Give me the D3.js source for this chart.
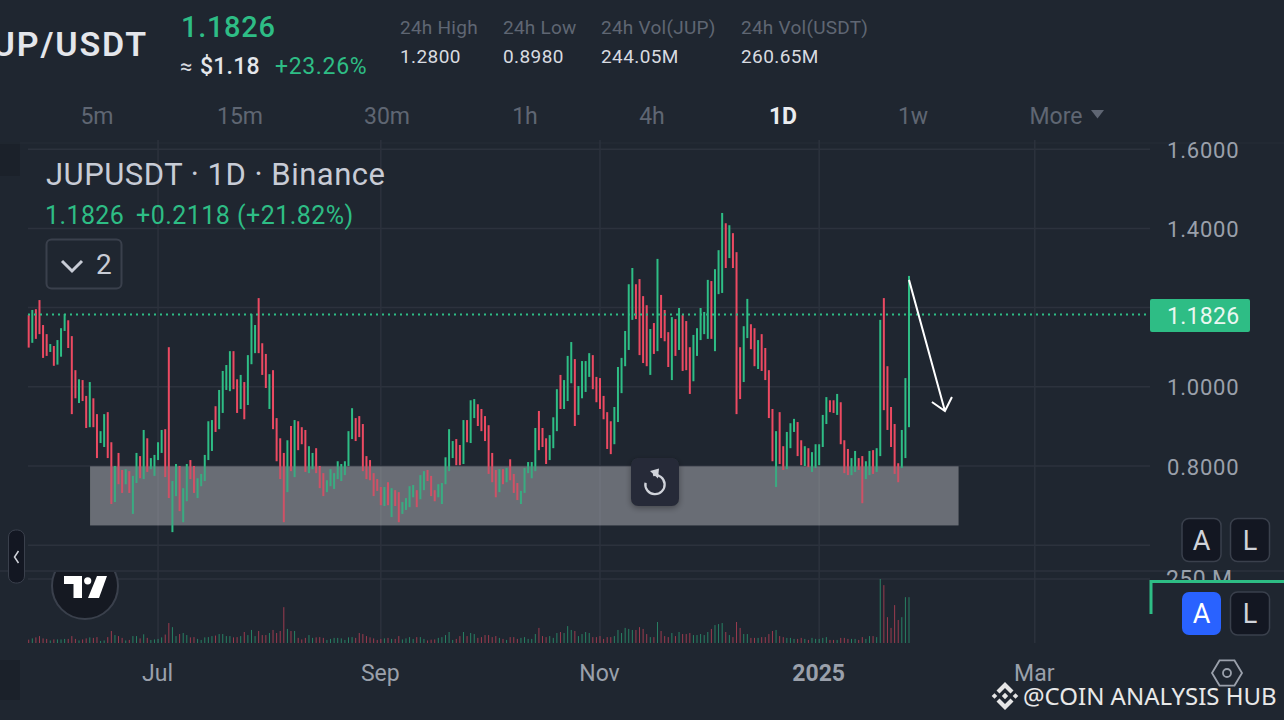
<!DOCTYPE html>
<html>
<head>
<meta charset="utf-8">
<script src="https://cdn.jsdelivr.net/npm/d3@7"></script>
<style>
  html, body { margin: 0; padding: 0; background: #1f2630; overflow: hidden; }
  svg { display: block; font-family: Roboto, sans-serif; }
</style>
</head>
<body>
<svg id="chart" width="1284" height="720"></svg>
<script>
// daily bars, 26 May 2024 to 26 Jan 2025
var highs = [
  1.181,1.194,1.196,1.219,1.156,1.133,1.108,1.103,1.118,1.148,
  1.184,1.168,1.128,1.042,1.019,1.017,0.977,1.012,0.971,0.931,
  0.888,0.931,0.936,0.860,0.800,0.833,0.790,0.792,0.787,0.775,
  0.833,0.825,0.891,0.870,0.820,0.828,0.860,0.891,0.893,1.100,
  0.762,0.805,0.800,0.744,0.805,0.815,0.800,0.769,0.780,0.828,
  0.913,0.916,0.951,0.992,1.040,1.055,1.090,1.090,1.019,1.030,
  1.012,1.080,1.184,1.156,1.224,1.110,1.083,1.032,1.042,0.921,
  0.870,0.833,0.865,0.901,0.916,0.913,0.898,0.891,0.850,0.833,
  0.845,0.800,0.782,0.764,0.792,0.782,0.812,0.805,0.812,0.888,
  0.946,0.921,0.926,0.906,0.825,0.815,0.782,0.767,0.747,0.747,
  0.759,0.744,0.739,0.734,0.709,0.719,0.749,0.752,0.739,0.777,
  0.787,0.790,0.775,0.739,0.754,0.757,0.822,0.893,0.863,0.868,
  0.853,0.916,0.916,0.966,0.969,0.956,0.944,0.926,0.903,0.833,
  0.790,0.792,0.792,0.795,0.817,0.780,0.757,0.737,0.795,0.810,
  0.810,0.896,0.939,0.896,0.870,0.878,0.923,0.994,1.030,1.017,
  1.078,1.113,1.070,1.002,1.065,1.065,1.085,1.080,1.025,1.022,
  0.977,0.936,0.913,0.949,1.050,1.073,1.141,1.259,1.300,1.259,
  1.272,1.229,1.206,1.146,1.161,1.323,1.232,1.194,1.138,1.176,
  1.171,1.199,1.181,1.166,1.100,1.131,1.148,1.199,1.189,1.270,
  1.267,1.297,1.345,1.439,1.413,1.408,1.388,1.340,1.100,1.153,
  1.222,1.158,1.148,1.118,1.133,1.098,1.042,0.944,0.888,0.936,
  0.850,0.886,0.908,0.919,0.911,0.865,0.850,0.845,0.835,0.855,
  0.855,0.929,0.974,0.966,0.966,0.982,0.961,0.865,0.843,0.820,
  0.838,0.820,0.825,0.812,0.838,0.840,0.845,1.169,1.224,1.052,
  0.949,0.906,0.807,0.891,1.022,1.280
];
var lows = [
  1.099,1.111,1.121,1.133,1.073,1.078,1.088,1.053,1.056,1.076,
  1.141,1.098,0.931,0.971,0.959,0.964,0.896,0.898,0.898,0.820,
  0.858,0.848,0.820,0.704,0.709,0.754,0.732,0.754,0.732,0.679,
  0.757,0.769,0.767,0.785,0.792,0.775,0.815,0.833,0.772,0.719,
  0.633,0.724,0.686,0.658,0.711,0.767,0.732,0.719,0.749,0.762,
  0.815,0.838,0.886,0.893,0.934,0.992,0.989,0.994,0.934,0.944,
  0.918,0.954,1.057,1.085,1.085,1.030,0.997,0.944,0.893,0.812,
  0.767,0.658,0.734,0.787,0.772,0.840,0.855,0.785,0.782,0.792,
  0.782,0.744,0.724,0.734,0.749,0.742,0.767,0.762,0.777,0.800,
  0.868,0.863,0.873,0.787,0.767,0.764,0.724,0.737,0.701,0.699,
  0.701,0.671,0.699,0.658,0.679,0.689,0.696,0.721,0.696,0.716,
  0.739,0.762,0.724,0.711,0.721,0.704,0.754,0.787,0.820,0.802,
  0.802,0.805,0.860,0.858,0.921,0.901,0.888,0.863,0.780,0.759,
  0.721,0.734,0.754,0.759,0.764,0.732,0.714,0.704,0.732,0.782,
  0.769,0.787,0.840,0.848,0.805,0.815,0.845,0.888,0.944,0.944,
  0.964,1.009,0.901,0.929,0.971,0.987,1.025,0.994,0.961,0.944,
  0.918,0.843,0.830,0.855,0.911,0.984,1.052,1.093,1.169,1.171,
  1.080,1.060,1.052,1.030,1.083,1.090,1.123,1.115,1.050,1.017,
  1.078,1.093,1.040,1.042,0.982,1.014,1.078,1.118,1.133,1.121,
  1.121,1.090,1.234,1.237,1.300,1.325,1.300,0.931,0.969,1.012,
  1.123,1.095,1.052,1.045,1.040,1.017,0.921,0.812,0.747,0.805,
  0.790,0.792,0.845,0.886,0.825,0.802,0.800,0.797,0.785,0.795,
  0.802,0.848,0.906,0.936,0.934,0.929,0.855,0.782,0.777,0.777,
  0.785,0.790,0.706,0.767,0.777,0.780,0.785,0.825,0.941,0.891,
  0.848,0.780,0.759,0.795,0.820,0.898
];
// g = up day, r = down day
var directions = (
  "rgrrrrgrgggr" + "rrgrrgrrggrr" + "grrgrggrgrgg" + "ggrrggrggrrg" + "ggggrggggrrg" +
  "rgggrrrgrrrr" + "grgrrrggrrrg" + "gggggggrrrrr" + "rrrgrgrrgggg" +
  "rggrrrgggggr" + "rgrggrrrrrrg" + "rgrrrgggggrr" + "rgggrgggrggg" +
  "grrrrrrggggg" + "grrrrgrgrrrg" + "rgrrrgggggrg" + "ggrgrrrggrrg" +
  "rrrrgrrgggrr" + "grgggggrrgrr" + "rggrrggrggrr" + "rrrggg"
).split("");
// volume in millions
var volumes = [
  13,18,22,27,18,16,10,14,14,14, 16,16,27,16,10,14,18,22,20,23,
  8,10,23,47,31,27,20,10,12,27, 27,18,34,20,12,14,16,22,33,78,
  62,27,35,39,31,22,23,16,12,22, 23,27,29,35,35,27,27,22,23,27,
  43,31,51,27,47,31,31,39,51,39, 47,140,55,47,47,20,14,20,31,20,
  22,23,20,12,16,20,20,18,12,22, 23,20,39,35,27,22,18,12,16,18,
  20,16,16,27,14,18,23,16,23,23, 16,10,13,14,20,23,31,43,12,16,
  27,
  43,27,39,35,20,23,31,31,23,27, 20,16,12,23,23,16,20,23,16,16,
  35,59,27,23,27,20,39,43,39,66, 51,47,27,35,43,39,23,23,27,16,
  23,23,27,51,39,59,55,51,51,62, 55,35,23,23,82,47,27,23,39,27,
  43,35,35,39,31,31,35,31,43,55, 70,74,78,43,31,23,82,59,35,35,
  20,20,20,23,23,35,47,51,27,23, 20,20,16,16,20,16,12,20,16,16,
  20,23,12,12,12,20,20,16,16,16, 12,23,16,27,27,23,250,226,101,59,
  148,90,101,179,179
];
var priceTicks = [0.6, 0.8, 1.0, 1.2, 1.4, 1.6];
var priceLabels = [0.8, 1.0, 1.4, 1.6];
var monthTicks = [36, 98, 159, 220, 280];
var monthLabels = ["Jul", "Sep", "Nov", "2025", "Mar"];
var lastPrice = 1.1826;
var zone = { from: 17, to: 258.7, top: 0.799, bottom: 0.650 };
var arrowFrom = { i: 245, price: 1.27 };
var arrowTo = { i: 255, price: 0.939 };

var statNames = ["24h High", "24h Low", "24h Vol(JUP)", "24h Vol(USDT)"];
var statValues = ["1.2800", "0.8980", "244.05M", "260.65M"];
var statX = [400, 503, 601, 741];
var intervals = ["5m", "15m", "30m", "1h", "4h", "1D", "1w", "More"];
var intervalX = [97, 240, 387, 525, 652, 783, 913, 1056];

var green = "#2ebd85", red = "#ec4a62", gridColor = "#2c323d", labelColor = "#9aa0ab";

var svg = d3.select("#chart");

var x = d3.scaleLinear().domain([0, 245]).range([28.7, 909]);
var y = d3.scaleLinear().domain([0.6, 1.6]).range([545.2, 149.2]);
var yVol = d3.scaleLinear().domain([0, 250]).range([643, 579]);

// darker patches down the left edge
svg.append("rect").attr("x", 0).attr("y", 142).attr("width", 20).attr("height", 34).attr("fill", "#1b212a");
svg.append("rect").attr("x", 0).attr("y", 660).attr("width", 20).attr("height", 40).attr("fill", "#1b212a");

// grid
var grid = svg.append("g").attr("stroke", gridColor).attr("stroke-width", 1.5);
grid.selectAll("line.h").data(priceTicks).enter().append("line")
  .attr("x1", 28).attr("x2", 1150)
  .attr("y1", function (d) { return y(d); })
  .attr("y2", function (d) { return y(d); });
grid.selectAll("line.v").data(monthTicks).enter().append("line")
  .attr("x1", function (d) { return x(d); })
  .attr("x2", function (d) { return x(d); })
  .attr("y1", 140).attr("y2", 643);
grid.append("line").attr("x1", 0).attr("x2", 1284).attr("y1", 571).attr("y2", 571);
grid.append("line").attr("x1", 28).attr("x2", 1150).attr("y1", 579).attr("y2", 579);
grid.append("line").attr("x1", 0).attr("x2", 1284).attr("y1", 143).attr("y2", 143).attr("stroke-opacity", 0.4);

// support zone, under the bars
function zoneRect(fill, opacity) {
  svg.append("rect")
    .attr("x", x(zone.from) + 0.3)
    .attr("y", y(zone.top))
    .attr("width", x(zone.to) - x(zone.from))
    .attr("height", y(zone.bottom) - y(zone.top))
    .attr("fill", fill).attr("fill-opacity", opacity);
}
zoneRect("#fff", 0.335);

// price bars
svg.append("g").selectAll("rect").data(highs).enter().append("rect")
  .attr("x", function (d, i) { return x(i) - 1; })
  .attr("y", function (d) { return y(d); })
  .attr("width", 2)
  .attr("height", function (d, i) { return y(lows[i]) - y(d); })
  .attr("fill", function (d, i) { return directions[i] == "g" ? green : red; });

// zone veil over the bars, same grey as the zone so only the bars fade
zoneRect("#6b6f77", 0.22);

// volume bars
svg.append("g").selectAll("rect").data(volumes).enter().append("rect")
  .attr("x", function (d, i) { return x(i) - 0.5; })
  .attr("y", function (d) { return yVol(d); })
  .attr("width", 1)
  .attr("height", function (d) { return yVol(0) - yVol(d); })
  .attr("fill", function (d, i) { return directions[i] == "g" ? green : red; })
  .attr("opacity", 0.6);

// last price line
svg.append("line")
  .attr("x1", 28).attr("x2", 1150)
  .attr("y1", y(lastPrice)).attr("y2", y(lastPrice))
  .attr("stroke", green).attr("stroke-width", 2).attr("stroke-dasharray", "2,4");

// arrow
var ax = x(arrowTo.i), ay = y(arrowTo.price);
svg.append("path")
  .attr("d", "M" + x(arrowFrom.i) + "," + y(arrowFrom.price) + "L" + ax + "," + ay +
    "M" + (ax - 13) + "," + (ay - 9) + "L" + ax + "," + ay + "L" + (ax + 7) + "," + (ay - 14))
  .attr("fill", "none").attr("stroke", "#fff").attr("stroke-width", 2);

// axes
var yAxis = d3.axisRight(y).tickValues(priceLabels).tickSize(0).tickPadding(0)
  .tickFormat(d3.format(".4f"));
var yG = svg.append("g").attr("transform", "translate(1167,1)").call(yAxis);
yG.select(".domain").remove();
yG.selectAll("text").attr("font-size", 22).attr("fill", labelColor)
  .attr("font-family", "Roboto").attr("letter-spacing", 0.8);

var xAxis = d3.axisBottom(x).tickValues(monthTicks).tickSize(0).tickPadding(0)
  .tickFormat(function (d, i) { return monthLabels[i]; });
var xG = svg.append("g").attr("transform", "translate(-1,665)").call(xAxis);
xG.select(".domain").remove();
xG.selectAll("text").attr("font-size", 23).attr("fill", labelColor)
  .attr("font-family", "Roboto")
  .attr("font-weight", function (d, i) { return monthLabels[i] == "2025" ? 700 : 400; });

function label(px, py, str, size, color, opts) {
  opts = opts || {};
  return svg.append("text").attr("x", px).attr("y", py).text(str)
    .attr("font-size", size).attr("fill", color)
    .attr("font-weight", opts.weight || 400)
    .attr("text-anchor", opts.anchor || "start")
    .attr("letter-spacing", opts.spacing || 0);
}

// header
label(148, 56, "JUP/USDT", 34, "#e4e6eb", { anchor: "end", weight: 600, spacing: 1.9 });
label(181, 37, "1.1826", 29, green, { weight: 500, spacing: 0.7 });
label(180, 74, "≈", 22, "#d8dbe0");
label(200, 74, "$1.18", 23, "#e4e6eb", { weight: 500, spacing: 0.2 });
label(275, 74, "+23.26%", 23, green, { spacing: 0.65 });
statNames.forEach(function (s, i) {
  label(statX[i], 34, s, 19, "#5f6673", { spacing: 0.25 });
  label(statX[i], 63, statValues[i], 19, "#d8dbe0", { spacing: 0.4 });
});
intervals.forEach(function (s, i) {
  var on = s == "1D";
  label(intervalX[i], 124, s, 23, on ? "#eaecef" : "#5f6673", { anchor: "middle", weight: on ? 700 : 400 });
});
svg.append("path").attr("d", "M1091,110h13l-6.5,8.5z").attr("fill", "#5f6673");

// chart legend
label(46, 185, "JUPUSDT · 1D · Binance", 31, "#c8ccd6", { spacing: 0.5 });
label(45, 224, "1.1826", 25, green, { spacing: 0.4 });
label(136, 224, "+0.2118 (+21.82%)", 25, green, { spacing: 0.47 });
svg.append("rect").attr("x", 46.5).attr("y", 239.5).attr("width", 75).attr("height", 49).attr("rx", 5)
  .attr("fill", "none").attr("stroke", "#3a404c").attr("stroke-width", 2);
svg.append("path").attr("d", "M62,261L72,271L82,261").attr("fill", "none").attr("stroke", "#c8ccd6").attr("stroke-width", 3);
label(96, 274, "2", 28, "#c8ccd6");

// last price tag
svg.append("rect").attr("x", 1150).attr("y", 299).attr("width", 100).attr("height", 33).attr("rx", 2).attr("fill", green);
label(1167, 324, "1.1826", 23, "#eaf7f1", { spacing: 0.3 });

// reset button
var shadow = svg.append("defs").append("filter").attr("id", "soft").attr("x", "-30%").attr("y", "-30%").attr("width", "160%").attr("height", "160%");
shadow.append("feDropShadow").attr("dx", 0).attr("dy", 2).attr("stdDeviation", 3).attr("flood-color", "#000").attr("flood-opacity", 0.35);
svg.append("rect").attr("x", 631).attr("y", 458).attr("width", 48).attr("height", 48).attr("rx", 7)
  .attr("fill", "#272c38").attr("filter", "url(#soft)");
var arcIcon = d3.arc().innerRadius(8.5).outerRadius(10.8).startAngle(-0.2).endAngle(4.9);
svg.append("path").attr("transform", "translate(655,484.5)").attr("d", arcIcon()).attr("fill", "#d0d3da");
svg.append("path").attr("d", "M650,471l9,-2.5l-1,10z").attr("fill", "#d0d3da");

// volume scale label, cut off by the pane border
svg.append("clipPath").attr("id", "volClip").append("rect").attr("x", 1150).attr("y", 560).attr("width", 134).attr("height", 20);
label(1166, 587, "250 M", 23, labelColor, { spacing: 0.4 }).attr("clip-path", "url(#volClip)");
svg.append("path").attr("d", "M1151,614V581.5H1284").attr("fill", "none").attr("stroke", green).attr("stroke-width", 3);

// A / L buttons
function button(px, py, str, blue) {
  svg.append("rect").attr("x", px).attr("y", py).attr("width", 39).attr("height", 43).attr("rx", 7)
    .attr("fill", blue ? "#2962ff" : "#131722")
    .attr("stroke", blue ? "none" : "#3a404c").attr("stroke-width", 1.5);
  label(px + 19.5, py + 31, str, 27, blue ? "#fff" : "#d0d3da", { anchor: "middle" });
}
button(1182, 518.5, "A", false);
button(1230.5, 518.5, "L", false);
button(1182, 592, "A", true);
button(1230.5, 592, "L", false);

// TradingView badge
svg.append("clipPath").attr("id", "logoClip").append("rect").attr("x", 40).attr("y", 572).attr("width", 90).attr("height", 60);
var logo = svg.append("g").attr("clip-path", "url(#logoClip)");
logo.append("circle").attr("cx", 85).attr("cy", 586).attr("r", 33).attr("fill", "#151922").attr("stroke", "#3a404c").attr("stroke-width", 2);
logo.append("path").attr("d", "M64,576H82V598H73.5V584H64Z").attr("fill", "#fff");
logo.append("circle").attr("cx", 87.7).attr("cy", 580.8).attr("r", 3.6).attr("fill", "#fff");
logo.append("path").attr("d", "M97,576H107L99,598H88Z").attr("fill", "#fff");

// collapse handle
svg.append("rect").attr("x", 8.5).attr("y", 530).attr("width", 16).attr("height", 53).attr("rx", 7)
  .attr("fill", "#131722").attr("stroke", "#3a404c").attr("stroke-width", 1);
svg.append("path").attr("d", "M18.5,551L14.5,557L18.5,563").attr("fill", "none").attr("stroke", "#d0d3da").attr("stroke-width", 1.5);

// settings hexagon
var hex = d3.range(6).map(function (k) {
  var a = k * Math.PI / 3;
  return [1227 + 15 * Math.cos(a), 673 + 14.5 * Math.sin(a)];
});
svg.append("path").attr("d", d3.line().curve(d3.curveLinearClosed)(hex)).attr("fill", "none").attr("stroke", labelColor).attr("stroke-width", 1.8);
svg.append("circle").attr("cx", 1227).attr("cy", 673).attr("r", 4).attr("fill", "none").attr("stroke", labelColor).attr("stroke-width", 1.8);

// watermark
var mark = svg.append("g").attr("fill", "#e6e6e6").attr("transform", "translate(1005,696)");
mark.append("path").attr("d", "M0,-14L8.5,-5.5L5.5,-2.5L0,-8L-5.5,-2.5L-8.5,-5.5Z");
mark.append("path").attr("d", "M0,14L8.5,5.5L5.5,2.5L0,8L-5.5,2.5L-8.5,5.5Z");
mark.append("path").attr("d", "M0,-3.2L3.2,0L0,3.2L-3.2,0Z");
mark.append("path").attr("d", "M-10.5,-2.8L-7.7,0L-10.5,2.8L-13.3,0Z");
mark.append("path").attr("d", "M10.5,-2.8L13.3,0L10.5,2.8L7.7,0Z");
label(1023, 705, "@COIN ANALYSIS HUB", 24, "#e8e8e8").attr("font-family", "Noto Sans");
</script>
</body>
</html>
